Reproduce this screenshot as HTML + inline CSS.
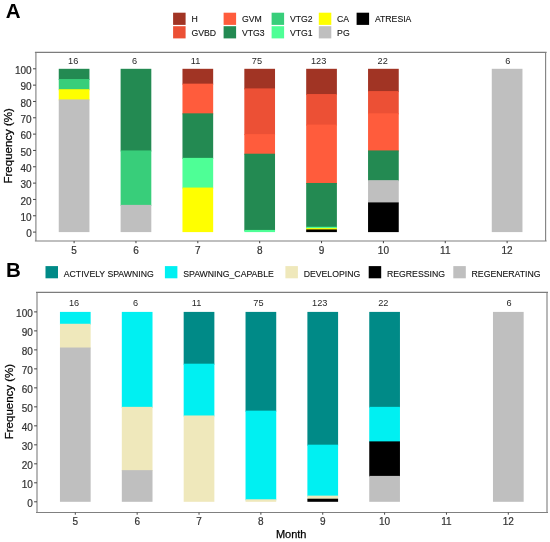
<!DOCTYPE html>
<html><head><meta charset="utf-8"><style>
html,body{margin:0;padding:0;background:#fff;}
body{width:550px;height:542px;overflow:hidden;}
svg{display:block;}
</style></head><body>
<svg width="550" height="542" viewBox="0 0 550 542">
<style>text{font-family:'Liberation Sans', Arial, sans-serif;} .lg{stroke:currentColor;stroke-width:0.12px;} .ytl,.xtl{stroke:currentColor;stroke-width:0.2px;} .ttl,.ttl2{stroke:currentColor;stroke-width:0.25px;} .lg{color:#1e1e1e;} .ytl,.xtl{color:#333;} .ttl,.ttl2{color:#000;} .cnt{font-size:9.2px;fill:#262626;text-anchor:middle;} .ytl{font-size:10px;fill:#333333;text-anchor:end;} .xtl{font-size:10px;fill:#333333;text-anchor:middle;} .ttl{font-size:11px;fill:#000;text-anchor:middle;} .ttl2{font-size:11.5px;fill:#000;text-anchor:middle;} .lg{font-size:8.7px;fill:#111;} .tag{font-size:20.5px;font-weight:bold;fill:#000;}</style>
<rect width="550" height="542" fill="#fff"/>
<rect x="58.75" y="68.8" width="30.7" height="11.21" fill="#238A52"/>
<rect x="58.75" y="79.01" width="30.7" height="11.21" fill="#38CE7A"/>
<rect x="58.75" y="89.21" width="30.7" height="11.21" fill="#FFFF00"/>
<rect x="58.75" y="99.42" width="30.7" height="132.68" fill="#BFBFBF"/>
<text x="73.2" y="64.4" class="cnt">16</text>
<rect x="120.61" y="68.8" width="30.7" height="82.65" fill="#238A52"/>
<rect x="120.61" y="150.45" width="30.7" height="55.43" fill="#38CE7A"/>
<rect x="120.61" y="204.88" width="30.7" height="27.22" fill="#BFBFBF"/>
<text x="134.66" y="64.4" class="cnt">6</text>
<rect x="182.47" y="68.8" width="30.7" height="15.85" fill="#A13424"/>
<rect x="182.47" y="83.65" width="30.7" height="30.69" fill="#FF5C3C"/>
<rect x="182.47" y="113.34" width="30.7" height="45.54" fill="#238A52"/>
<rect x="182.47" y="157.87" width="30.7" height="30.69" fill="#4EFF96"/>
<rect x="182.47" y="187.56" width="30.7" height="44.54" fill="#FFFF00"/>
<text x="195.57" y="64.4" class="cnt">11</text>
<rect x="244.33" y="68.8" width="30.7" height="20.6" fill="#A13424"/>
<rect x="244.33" y="88.4" width="30.7" height="46.72" fill="#EC5035"/>
<rect x="244.33" y="134.12" width="30.7" height="20.6" fill="#FF5C3C"/>
<rect x="244.33" y="153.72" width="30.7" height="77.21" fill="#238A52"/>
<rect x="244.33" y="229.92" width="30.7" height="2.18" fill="#4EFF96"/>
<text x="256.98" y="64.4" class="cnt">75</text>
<rect x="306.19" y="68.8" width="30.7" height="26.23" fill="#A13424"/>
<rect x="306.19" y="94.03" width="30.7" height="31.54" fill="#EC5035"/>
<rect x="306.19" y="124.56" width="30.7" height="59.42" fill="#FF5C3C"/>
<rect x="306.19" y="182.98" width="30.7" height="44.81" fill="#238A52"/>
<rect x="306.19" y="226.79" width="30.7" height="2.33" fill="#4EFF96"/>
<rect x="306.19" y="228.12" width="30.7" height="2.33" fill="#FFFF00"/>
<rect x="306.19" y="229.44" width="30.7" height="2.66" fill="#000000"/>
<text x="318.64" y="64.4" class="cnt">123</text>
<rect x="368.05" y="68.8" width="30.7" height="23.27" fill="#A13424"/>
<rect x="368.05" y="91.07" width="30.7" height="23.27" fill="#EC5035"/>
<rect x="368.05" y="113.34" width="30.7" height="38.11" fill="#FF5C3C"/>
<rect x="368.05" y="150.45" width="30.7" height="30.69" fill="#238A52"/>
<rect x="368.05" y="180.14" width="30.7" height="23.27" fill="#BFBFBF"/>
<rect x="368.05" y="202.41" width="30.7" height="29.69" fill="#000000"/>
<text x="382.7" y="64.4" class="cnt">22</text>
<rect x="491.77" y="68.8" width="30.7" height="163.3" fill="#BFBFBF"/>
<text x="507.82" y="64.4" class="cnt">6</text>
<line x1="34.9" x2="546.6" y1="52.4" y2="52.4" stroke="#7c7c7c" stroke-width="1.15"/>
<line x1="34.9" x2="546.6" y1="241" y2="241" stroke="#808080" stroke-width="1.15"/>
<line x1="35.9" x2="35.9" y1="52.4" y2="241" stroke="#848484" stroke-width="1.15"/>
<line x1="545.6" x2="545.6" y1="52.4" y2="241" stroke="#848484" stroke-width="1.15"/>
<line x1="33" x2="35.9" y1="232.1" y2="232.1" stroke="#444444" stroke-width="1"/>
<text x="31.7" y="237.4" class="ytl">0</text>
<line x1="33" x2="35.9" y1="215.77" y2="215.77" stroke="#444444" stroke-width="1"/>
<text x="31.7" y="221.07" class="ytl">10</text>
<line x1="33" x2="35.9" y1="199.44" y2="199.44" stroke="#444444" stroke-width="1"/>
<text x="31.7" y="204.74" class="ytl">20</text>
<line x1="33" x2="35.9" y1="183.11" y2="183.11" stroke="#444444" stroke-width="1"/>
<text x="31.7" y="188.41" class="ytl">30</text>
<line x1="33" x2="35.9" y1="166.78" y2="166.78" stroke="#444444" stroke-width="1"/>
<text x="31.7" y="172.08" class="ytl">40</text>
<line x1="33" x2="35.9" y1="150.45" y2="150.45" stroke="#444444" stroke-width="1"/>
<text x="31.7" y="155.75" class="ytl">50</text>
<line x1="33" x2="35.9" y1="134.12" y2="134.12" stroke="#444444" stroke-width="1"/>
<text x="31.7" y="139.42" class="ytl">60</text>
<line x1="33" x2="35.9" y1="117.79" y2="117.79" stroke="#444444" stroke-width="1"/>
<text x="31.7" y="123.09" class="ytl">70</text>
<line x1="33" x2="35.9" y1="101.46" y2="101.46" stroke="#444444" stroke-width="1"/>
<text x="31.7" y="106.76" class="ytl">80</text>
<line x1="33" x2="35.9" y1="85.13" y2="85.13" stroke="#444444" stroke-width="1"/>
<text x="31.7" y="90.43" class="ytl">90</text>
<line x1="33" x2="35.9" y1="68.8" y2="68.8" stroke="#444444" stroke-width="1"/>
<text x="31.7" y="74.1" class="ytl">100</text>
<line x1="74.1" x2="74.1" y1="241" y2="243.2" stroke="#444444" stroke-width="1"/>
<text x="74.1" y="253.8" class="xtl">5</text>
<line x1="135.96" x2="135.96" y1="241" y2="243.2" stroke="#444444" stroke-width="1"/>
<text x="135.96" y="253.8" class="xtl">6</text>
<line x1="197.82" x2="197.82" y1="241" y2="243.2" stroke="#444444" stroke-width="1"/>
<text x="197.82" y="253.8" class="xtl">7</text>
<line x1="259.68" x2="259.68" y1="241" y2="243.2" stroke="#444444" stroke-width="1"/>
<text x="259.68" y="253.8" class="xtl">8</text>
<line x1="321.54" x2="321.54" y1="241" y2="243.2" stroke="#444444" stroke-width="1"/>
<text x="321.54" y="253.8" class="xtl">9</text>
<line x1="383.4" x2="383.4" y1="241" y2="243.2" stroke="#444444" stroke-width="1"/>
<text x="383.4" y="253.8" class="xtl">10</text>
<line x1="445.26" x2="445.26" y1="241" y2="243.2" stroke="#444444" stroke-width="1"/>
<text x="445.26" y="253.8" class="xtl">11</text>
<line x1="507.12" x2="507.12" y1="241" y2="243.2" stroke="#444444" stroke-width="1"/>
<text x="507.12" y="253.8" class="xtl">12</text>
<text transform="translate(11.8 145.8) rotate(-90)" class="ttl2">Frequency (%)</text>
<rect x="59.95" y="311.9" width="30.7" height="12.87" fill="#00F0F2"/>
<rect x="59.95" y="323.77" width="30.7" height="24.74" fill="#EFE8BB"/>
<rect x="59.95" y="347.51" width="30.7" height="154.29" fill="#BFBFBF"/>
<text x="74" y="306.3" class="cnt">16</text>
<rect x="121.81" y="311.9" width="30.7" height="95.95" fill="#00F0F2"/>
<rect x="121.81" y="406.85" width="30.7" height="64.3" fill="#EFE8BB"/>
<rect x="121.81" y="470.15" width="30.7" height="31.65" fill="#BFBFBF"/>
<text x="135.46" y="306.3" class="cnt">6</text>
<rect x="183.67" y="311.9" width="30.7" height="52.79" fill="#008A87"/>
<rect x="183.67" y="363.69" width="30.7" height="52.79" fill="#00F0F2"/>
<rect x="183.67" y="415.48" width="30.7" height="86.32" fill="#EFE8BB"/>
<text x="196.52" y="306.3" class="cnt">11</text>
<rect x="245.53" y="311.9" width="30.7" height="99.75" fill="#008A87"/>
<rect x="245.53" y="410.65" width="30.7" height="89.62" fill="#00F0F2"/>
<rect x="245.53" y="499.27" width="30.7" height="2.53" fill="#EFE8BB"/>
<text x="258.43" y="306.3" class="cnt">75</text>
<rect x="307.39" y="311.9" width="30.7" height="133.78" fill="#008A87"/>
<rect x="307.39" y="444.68" width="30.7" height="51.95" fill="#00F0F2"/>
<rect x="307.39" y="495.62" width="30.7" height="4.09" fill="#EFE8BB"/>
<rect x="307.39" y="498.71" width="30.7" height="3.09" fill="#000000"/>
<text x="319.79" y="306.3" class="cnt">123</text>
<rect x="369.25" y="311.9" width="30.7" height="95.95" fill="#008A87"/>
<rect x="369.25" y="406.85" width="30.7" height="35.53" fill="#00F0F2"/>
<rect x="369.25" y="441.38" width="30.7" height="35.53" fill="#000000"/>
<rect x="369.25" y="475.9" width="30.7" height="25.9" fill="#BFBFBF"/>
<text x="383.35" y="306.3" class="cnt">22</text>
<rect x="492.97" y="311.9" width="30.7" height="189.9" fill="#BFBFBF"/>
<text x="509.12" y="306.3" class="cnt">6</text>
<line x1="36" x2="548" y1="292.4" y2="292.4" stroke="#7c7c7c" stroke-width="1.15"/>
<line x1="36" x2="548" y1="512.5" y2="512.5" stroke="#808080" stroke-width="1.15"/>
<line x1="37" x2="37" y1="292.4" y2="512.5" stroke="#848484" stroke-width="1.15"/>
<line x1="547" x2="547" y1="292.4" y2="512.5" stroke="#848484" stroke-width="1.15"/>
<line x1="34.1" x2="37" y1="501.8" y2="501.8" stroke="#444444" stroke-width="1"/>
<text x="32.8" y="506.95" class="ytl">0</text>
<line x1="34.1" x2="37" y1="482.81" y2="482.81" stroke="#444444" stroke-width="1"/>
<text x="32.8" y="487.96" class="ytl">10</text>
<line x1="34.1" x2="37" y1="463.82" y2="463.82" stroke="#444444" stroke-width="1"/>
<text x="32.8" y="468.97" class="ytl">20</text>
<line x1="34.1" x2="37" y1="444.83" y2="444.83" stroke="#444444" stroke-width="1"/>
<text x="32.8" y="449.98" class="ytl">30</text>
<line x1="34.1" x2="37" y1="425.84" y2="425.84" stroke="#444444" stroke-width="1"/>
<text x="32.8" y="430.99" class="ytl">40</text>
<line x1="34.1" x2="37" y1="406.85" y2="406.85" stroke="#444444" stroke-width="1"/>
<text x="32.8" y="412" class="ytl">50</text>
<line x1="34.1" x2="37" y1="387.86" y2="387.86" stroke="#444444" stroke-width="1"/>
<text x="32.8" y="393.01" class="ytl">60</text>
<line x1="34.1" x2="37" y1="368.87" y2="368.87" stroke="#444444" stroke-width="1"/>
<text x="32.8" y="374.02" class="ytl">70</text>
<line x1="34.1" x2="37" y1="349.88" y2="349.88" stroke="#444444" stroke-width="1"/>
<text x="32.8" y="355.03" class="ytl">80</text>
<line x1="34.1" x2="37" y1="330.89" y2="330.89" stroke="#444444" stroke-width="1"/>
<text x="32.8" y="336.04" class="ytl">90</text>
<line x1="34.1" x2="37" y1="311.9" y2="311.9" stroke="#444444" stroke-width="1"/>
<text x="32.8" y="317.05" class="ytl">100</text>
<line x1="75.3" x2="75.3" y1="512.5" y2="514.7" stroke="#444444" stroke-width="1"/>
<text x="75.3" y="525.4" class="xtl">5</text>
<line x1="137.16" x2="137.16" y1="512.5" y2="514.7" stroke="#444444" stroke-width="1"/>
<text x="137.16" y="525.4" class="xtl">6</text>
<line x1="199.02" x2="199.02" y1="512.5" y2="514.7" stroke="#444444" stroke-width="1"/>
<text x="199.02" y="525.4" class="xtl">7</text>
<line x1="260.88" x2="260.88" y1="512.5" y2="514.7" stroke="#444444" stroke-width="1"/>
<text x="260.88" y="525.4" class="xtl">8</text>
<line x1="322.74" x2="322.74" y1="512.5" y2="514.7" stroke="#444444" stroke-width="1"/>
<text x="322.74" y="525.4" class="xtl">9</text>
<line x1="384.6" x2="384.6" y1="512.5" y2="514.7" stroke="#444444" stroke-width="1"/>
<text x="384.6" y="525.4" class="xtl">10</text>
<line x1="446.46" x2="446.46" y1="512.5" y2="514.7" stroke="#444444" stroke-width="1"/>
<text x="446.46" y="525.4" class="xtl">11</text>
<line x1="508.32" x2="508.32" y1="512.5" y2="514.7" stroke="#444444" stroke-width="1"/>
<text x="508.32" y="525.4" class="xtl">12</text>
<text transform="translate(12.9 401.55) rotate(-90)" class="ttl2">Frequency (%)</text>
<text x="291.2" y="537.9" class="ttl">Month</text>
<text x="5.8" y="18.4" class="tag">A</text>
<text x="6.0" y="276.8" class="tag">B</text>
<rect x="173.1" y="12.7" width="12.5" height="12.2" fill="#A13424"/>
<text x="191.4" y="22.1" class="lg">H</text>
<rect x="173.1" y="26.2" width="12.5" height="12.2" fill="#EC5035"/>
<text x="191.4" y="35.6" class="lg">GVBD</text>
<rect x="223.6" y="12.7" width="12.5" height="12.2" fill="#FF5C3C"/>
<text x="241.9" y="22.1" class="lg">GVM</text>
<rect x="223.6" y="26.2" width="12.5" height="12.2" fill="#238A52"/>
<text x="241.9" y="35.6" class="lg">VTG3</text>
<rect x="271.6" y="12.7" width="12.5" height="12.2" fill="#38CE7A"/>
<text x="289.9" y="22.1" class="lg">VTG2</text>
<rect x="271.6" y="26.2" width="12.5" height="12.2" fill="#4EFF96"/>
<text x="289.9" y="35.6" class="lg">VTG1</text>
<rect x="318.8" y="12.7" width="12.5" height="12.2" fill="#FFFF00"/>
<text x="337.1" y="22.1" class="lg">CA</text>
<rect x="318.8" y="26.2" width="12.5" height="12.2" fill="#BFBFBF"/>
<text x="337.1" y="35.6" class="lg">PG</text>
<rect x="356.6" y="12.7" width="12.5" height="12.2" fill="#000000"/>
<text x="374.9" y="22.1" class="lg">ATRESIA</text>
<rect x="45.5" y="266.1" width="12.5" height="12.2" fill="#008A87"/>
<text x="63.8" y="276.5" class="lg">ACTIVELY SPAWNING</text>
<rect x="164.9" y="266.1" width="12.5" height="12.2" fill="#00F0F2"/>
<text x="183.2" y="276.5" class="lg">SPAWNING_CAPABLE</text>
<rect x="285.4" y="266.1" width="12.5" height="12.2" fill="#EFE8BB"/>
<text x="303.7" y="276.5" class="lg">DEVELOPING</text>
<rect x="368.7" y="266.1" width="12.5" height="12.2" fill="#000000"/>
<text x="387" y="276.5" class="lg">REGRESSING</text>
<rect x="453.3" y="266.1" width="12.5" height="12.2" fill="#BFBFBF"/>
<text x="471.6" y="276.5" class="lg">REGENERATING</text>
</svg>
</body></html>
